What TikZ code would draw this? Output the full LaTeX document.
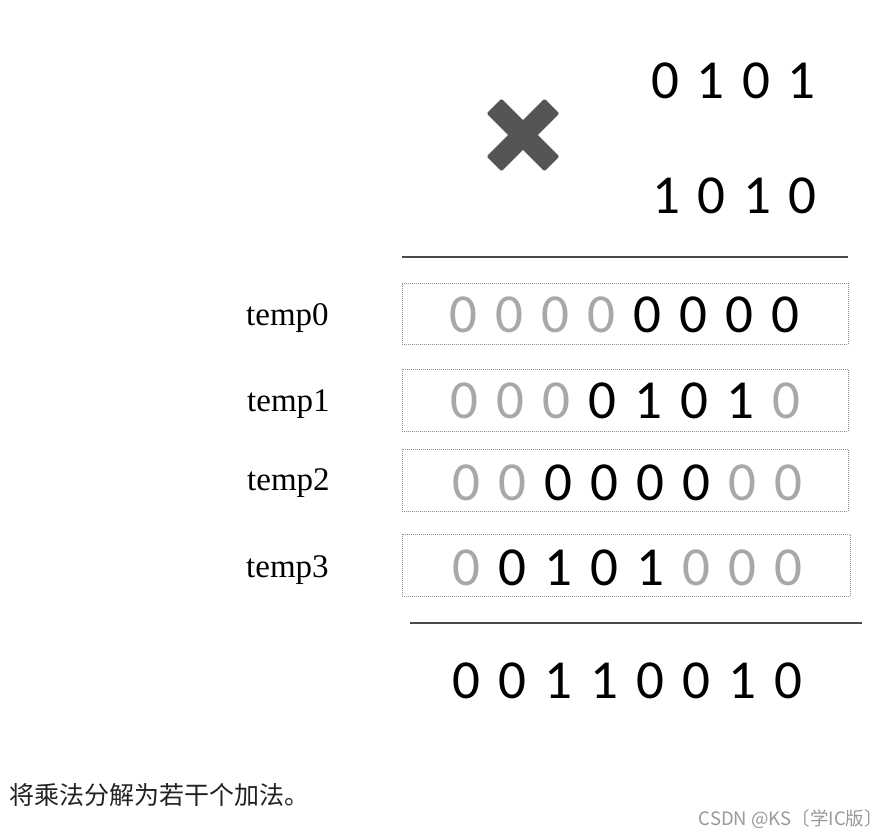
\documentclass[tikz,border=0pt]{standalone}
\usepackage{fontspec}
\setmainfont{Liberation Serif}
\newfontfamily\digitfont{Carlito}
\newfontfamily\cjkfont{Noto Sans CJK SC}
\definecolor{lightd}{HTML}{A8A8A8}
\definecolor{xgray}{HTML}{555555}
\definecolor{rulegray}{HTML}{4A4A4A}
\definecolor{boxgray}{HTML}{8C8C8C}
\definecolor{wmgray}{HTML}{9A9A9A}
\definecolor{captxt}{HTML}{222222}
\tikzset{
  dg/.style={font=\digitfont\fontsize{55}{55}\selectfont, inner sep=0pt, anchor=base},
  rowbox/.style={draw=boxgray, densely dotted, line width=1pt, inner sep=0pt},
  rowlabel/.style={font=\fontsize{33}{33}\selectfont, inner sep=0pt, anchor=base west},
  sumrule/.style={draw=rulegray, line width=2pt},
}
\begin{document}
\begin{tikzpicture}[x=1pt,y=-1pt]
\fill[white] (0,0) rectangle (888,836);
\useasboundingbox (0,0) rectangle (888,836);

% multiplicands
\foreach \d [count=\i from 0] in {0,1,0,1}
  \node[dg] (ta\i) at (665+45.5*\i,98) {\d};
\foreach \d [count=\i from 0] in {1,0,1,0}
  \node[dg] (tb\i) at (666+45.5*\i,213) {\d};

% multiplication sign
\begin{scope}[shift={(523,135)}]
  \fill[xgray, rounded corners=1.5pt, rotate=45] (-41,-10.5) rectangle (41,10.5);
  \fill[xgray, rounded corners=1.5pt, rotate=-45] (-41,-10.5) rectangle (41,10.5);
\end{scope}

% first rule
\coordinate (r1a) at (402,257);
\coordinate (r1b) at (848,257);
\draw[sumrule] (r1a) -- (r1b);

% boxes
\node[rowbox, minimum width=446pt, minimum height=61pt] (box0) at (625,313.5) {};
\node[rowbox, minimum width=446pt, minimum height=62pt] (box1) at (625,400) {};
\node[rowbox, minimum width=446pt, minimum height=62pt] (box2) at (625,480) {};
\node[rowbox, minimum width=448pt, minimum height=62pt] (box3) at (626,565) {};

% labels
\node[rowlabel] (l0) at (246,325) {temp0};
\node[rowlabel] (l1) at (247,411) {temp1};
\node[rowlabel] (l2) at (247,490) {temp2};
\node[rowlabel] (l3) at (246,577) {temp3};

% partial products
\foreach \d/\c [count=\i from 0] in {0/lightd,0/lightd,0/lightd,0/lightd,0/black,0/black,0/black,0/black}
  \node[dg, text=\c] (p0d\i) at (463+46*\i,332) {\d};
\foreach \d/\c [count=\i from 0] in {0/lightd,0/lightd,0/lightd,0/black,1/black,0/black,1/black,0/lightd}
  \node[dg, text=\c] (p1d\i) at (464+46*\i,418) {\d};
\foreach \d/\c [count=\i from 0] in {0/lightd,0/lightd,0/black,0/black,0/black,0/black,0/lightd,0/lightd}
  \node[dg, text=\c] (p2d\i) at (466+46*\i,500) {\d};
\foreach \d/\c [count=\i from 0] in {0/lightd,0/black,1/black,0/black,1/black,0/lightd,0/lightd,0/lightd}
  \node[dg, text=\c] (p3d\i) at (466+46*\i,585) {\d};

% second rule
\coordinate (r2a) at (410,623);
\coordinate (r2b) at (862,623);
\draw[sumrule] (r2a) -- (r2b);

% result
\foreach \d [count=\i from 0] in {0,0,1,1,0,0,1,0}
  \node[dg] (res\i) at (466+46*\i,698) {\d};

% caption and watermark
\node[anchor=base west, inner sep=0pt, text=captxt, font=\cjkfont\fontsize{25}{25}\selectfont] (cap) at (9,804) {将乘法分解为若干个加法。};
\node[anchor=base east, inner sep=0pt, text=wmgray, font=\cjkfont\fontsize{18.5}{18.5}\selectfont] (wm) at (883,825) {CSDN @KS〔学IC版〕};
\end{tikzpicture}
\end{document}
